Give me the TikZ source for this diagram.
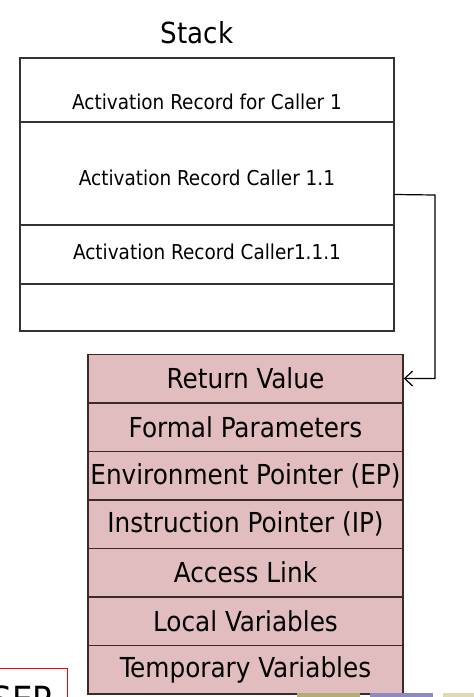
\documentclass[tikz,border=0pt]{standalone}
\usepackage{fontspec}
\setmainfont{DejaVu Sans Condensed}
\usepackage{tikz}
\usetikzlibrary{arrows.meta}
\definecolor{recpink}{RGB}{226,189,191}
\definecolor{recline}{RGB}{58,42,42}
\tikzset{
  stackrow/.style={draw=black!80,line width=1.2pt,minimum width=374pt,inner sep=0pt},
  rowtext/.style={font=\fontsize{20.5}{22}\selectfont},
  recrow/.style={draw=recline,line width=1.5pt,fill=recpink,minimum width=315pt,minimum height=48.5pt,inner sep=0pt,font=\fontsize{27.5}{29}\selectfont}
}
\begin{document}
\begin{tikzpicture}[x=1pt,y=-1pt]
  \useasboundingbox (0,0) rectangle (474,697);
  \clip (0,0) rectangle (474,697);
  \node[font=\fontsize{29}{31}\selectfont] (st) at (197,33) {Stack};
  \node[stackrow,minimum height=64pt,label={[rowtext,yshift=-12pt]center:Activation Record for Caller 1}] (ar1) at (207,90) {};
  \node[stackrow,minimum height=103pt,label={[rowtext,yshift=-4.5pt]center:Activation Record Caller 1.1}] (ar2) at (207,173.5) {};
  \node[stackrow,minimum height=59pt,label={[rowtext,yshift=2.5pt]center:Activation Record Caller1.1.1}] (ar3) at (207,254.5) {};
  \node[stackrow,minimum height=47pt] (ar4) at (207,307.5) {};
  % the activation record layout
  \foreach \txt [count=\i] in {Return Value,Formal Parameters,Environment Pointer (EP),Instruction Pointer (IP),Access Link,Local Variables,Temporary Variables}
    \node[recrow] (r\i) at (245.5,{378.5+48.5*(\i-1)}) {\txt};
  \coordinate (bend) at (435,195);
  \draw[-{Straight Barb[length=8pt,width=15pt]},line width=1.2pt] ([yshift=-21pt]ar2.east) -- (bend) |- (r1.east);
  % cut-off bits at the bottom edge
  \node[draw=red,line width=1pt,minimum width=80pt,minimum height=50pt,anchor=north east] (sep) at (68,668) {};
  \node[font=\fontsize{36}{38}\selectfont,anchor=base east] (septxt) at (56,712) {SEP};
  \fill[olive!50!gray!70] (297,693) rectangle (360,697);
  \fill[blue!30!gray!70] (370,693) rectangle (433,697);
  \fill[yellow!40!gray!50] (443,693) rectangle (474,697);
\end{tikzpicture}
\end{document}
